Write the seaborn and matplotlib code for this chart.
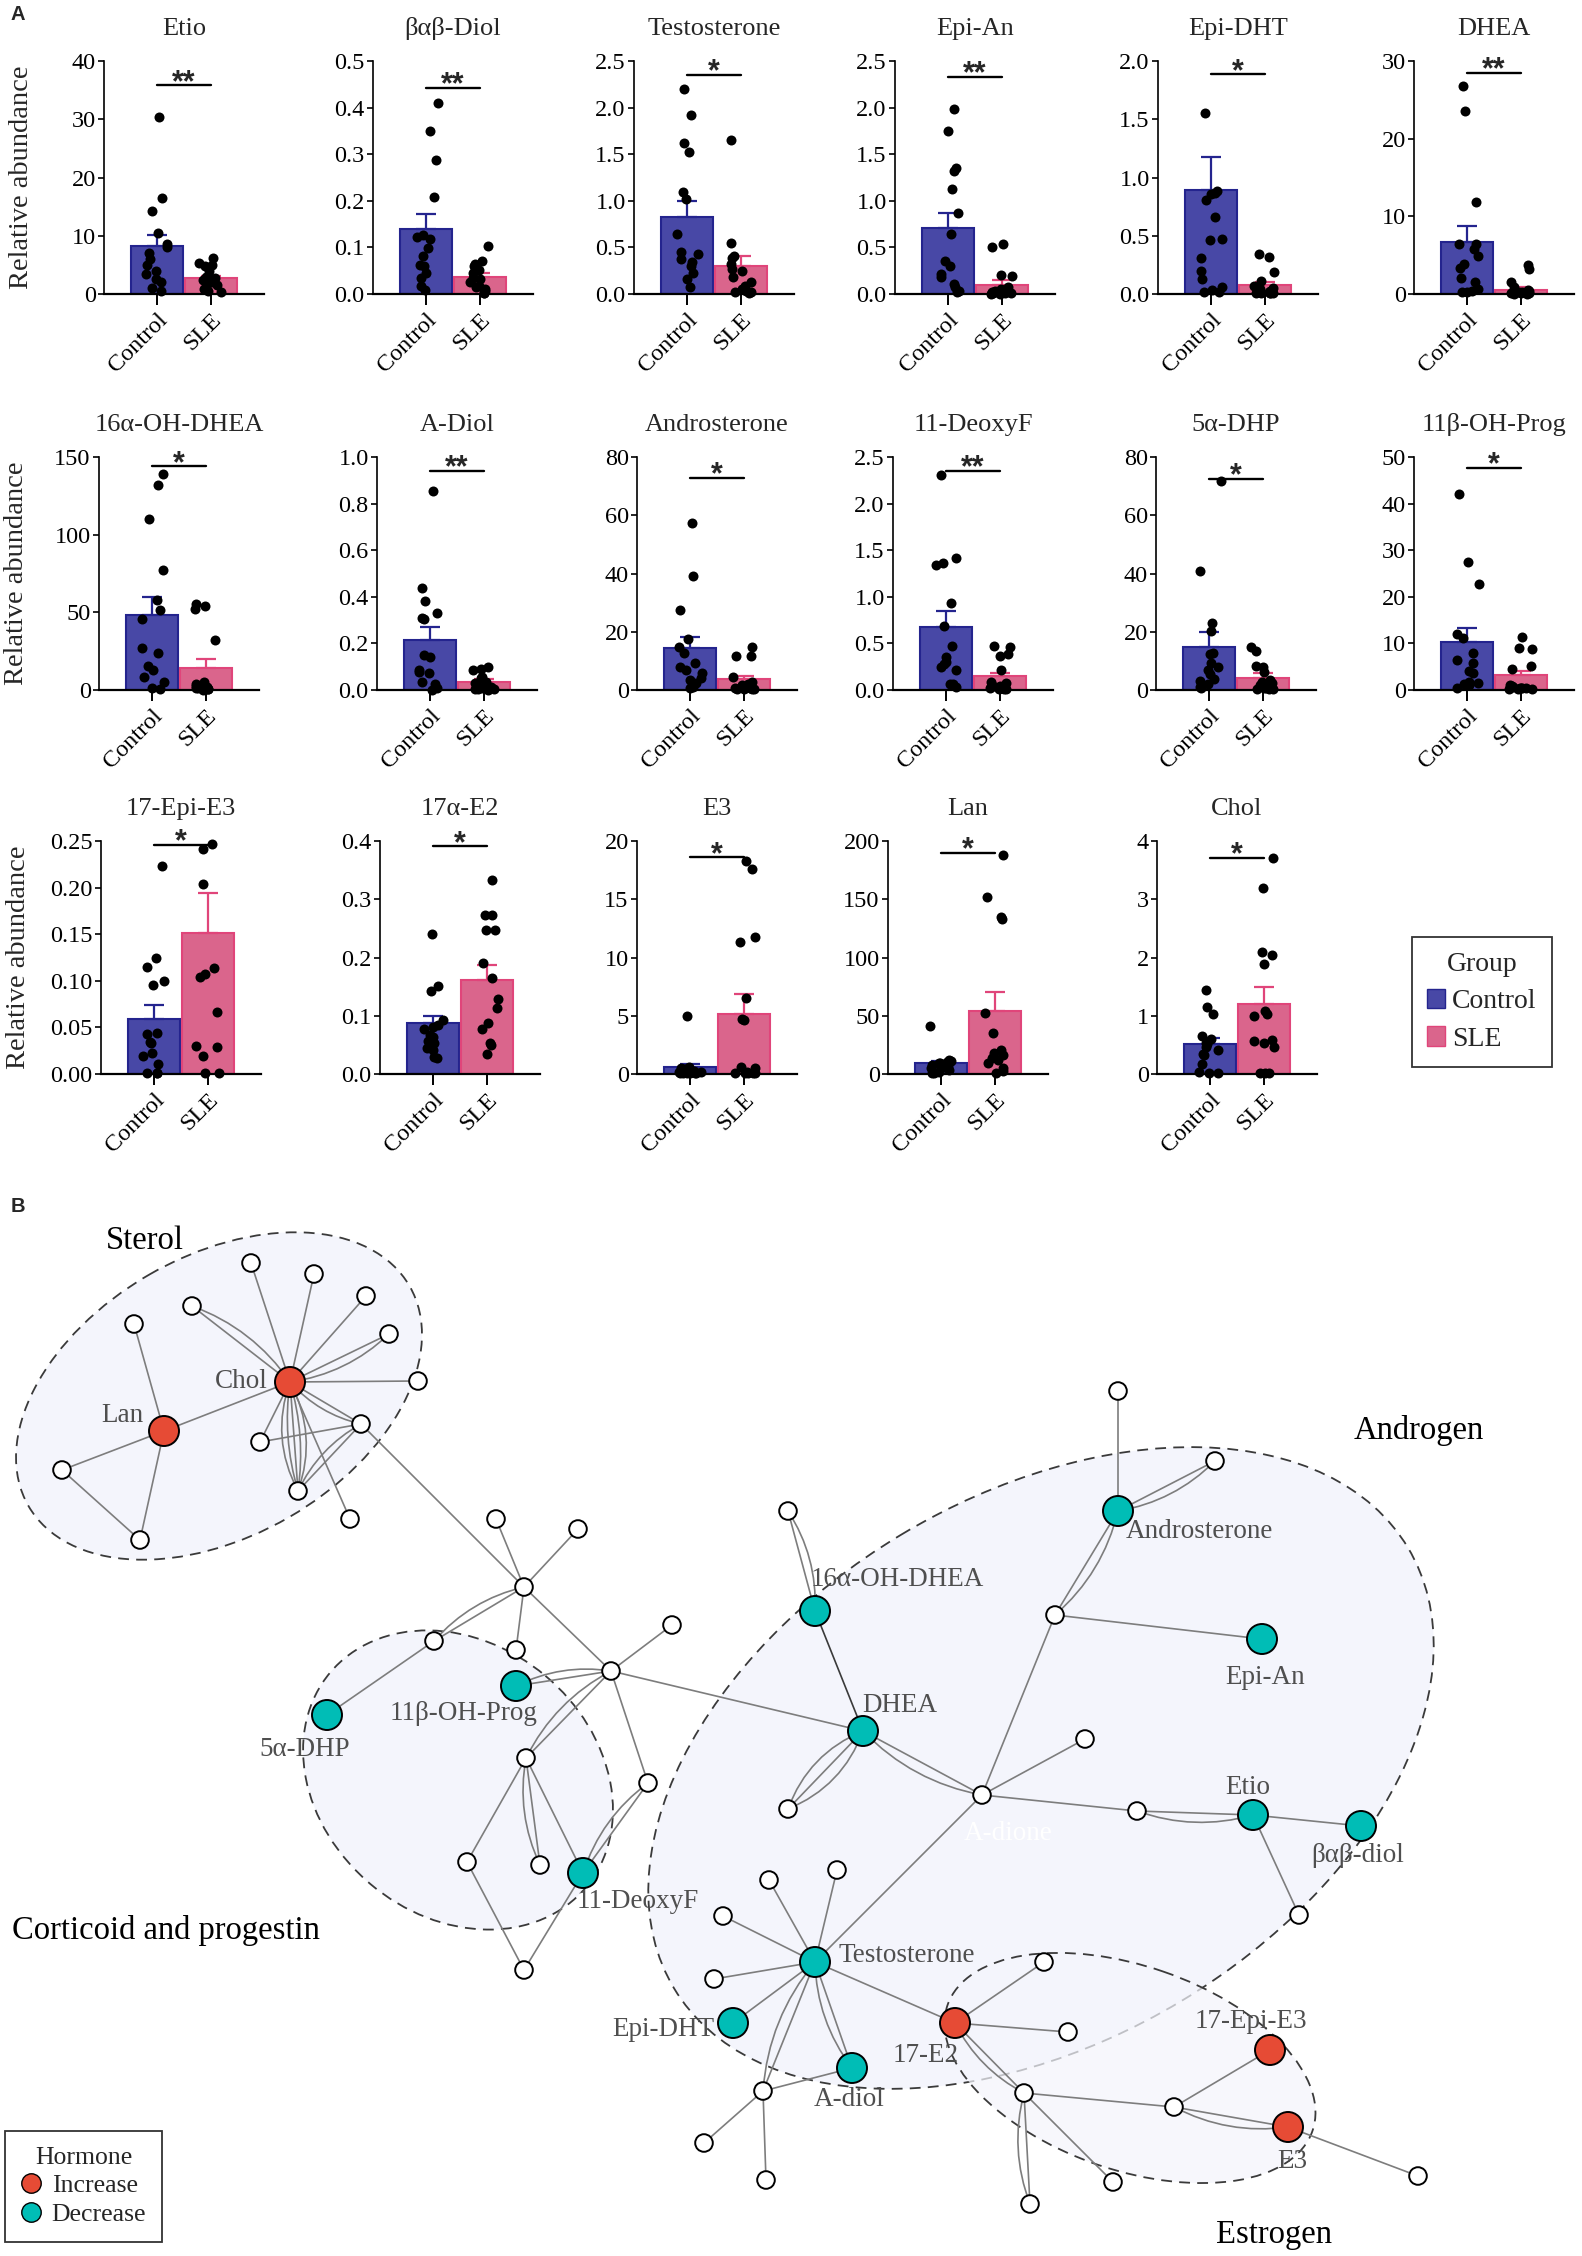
import numpy as np
import pandas as pd
import matplotlib
matplotlib.use("Agg")
import matplotlib.pyplot as plt
import seaborn as sns
from matplotlib.patches import Ellipse, Circle, FancyArrowPatch, Patch
from matplotlib.lines import Line2D

sns.set_theme(style="ticks")
plt.rcParams['font.family'] = ['Liberation Serif', 'DejaVu Serif']
plt.rcParams['axes.edgecolor'] = 'black'
plt.rcParams['xtick.color'] = 'black'
plt.rcParams['ytick.color'] = 'black'

# ---------------------------------------------------------------- data (panel A)
groups = ["Control", "SLE"]
hormones = ["Etio", "βαβ-Diol", "Testosterone", "Epi-An", "Epi-DHT", "DHEA",
            "16α-OH-DHEA", "A-Diol", "Androsterone", "11-DeoxyF", "5α-DHP", "11β-OH-Prog",
            "17-Epi-E3", "17α-E2", "E3", "Lan", "Chol"]
significance = ["**", "**", "*", "**", "*", "**", "*", "**", "*", "**", "*", "*",
                "*", "*", "*", "*", "*"]
sig_level = [35.8, 0.443, 2.35, 2.33, 1.886, 28.5, 144, 0.94, 72.9, 2.35, 72.4, 47.6,
             0.246, 0.391, 18.6, 190, 3.71]
control_mean = [8.2, 0.139, 0.83, 0.709, 0.889, 6.64, 48.6, 0.214, 14.3, 0.68, 14.9, 10.4,
                0.0586, 0.087, 0.57, 9.1, 0.507]
control_sem = [2.0, 0.033, 0.17, 0.164, 0.29, 2.1, 11.4, 0.057, 4.0, 0.17, 5.1, 3.0,
               0.015, 0.013, 0.29, 2.0, 0.113]
sle_mean = [2.76, 0.036, 0.30, 0.10, 0.077, 0.56, 13.9, 0.036, 3.7, 0.15, 4.2, 3.2,
            0.151, 0.162, 5.14, 54.0, 1.21]
sle_sem = [0.35, 0.008, 0.11, 0.045, 0.028, 0.38, 5.8, 0.01, 1.2, 0.036, 1.7, 0.9,
           0.043, 0.025, 1.7, 16.4, 0.29]
y_max = [40, 0.5, 2.5, 2.5, 2.0, 30, 150, 1.0, 80, 2.5, 80, 50, 0.25, 0.4, 20, 200, 4]
y_step = [10, 0.1, 0.5, 0.5, 0.5, 10, 50, 0.2, 20, 0.5, 20, 10, 0.05, 0.1, 5, 50, 1]
y_decimals = [0, 1, 1, 1, 1, 0, 0, 1, 0, 1, 0, 0, 2, 1, 0, 0, 0]

control_points = [
    [30.4, 16.5, 14.3, 10.5, 8.5, 8.0, 7.0, 6.0, 5.0, 4.0, 3.5, 2.5, 2.0, 1.0, 0.5],
    [0.409, 0.35, 0.287, 0.208, 0.126, 0.123, 0.117, 0.099, 0.081, 0.063, 0.06, 0.045, 0.034, 0.018, 0.009],
    [2.2, 1.92, 1.625, 1.525, 1.09, 1.02, 0.64, 0.45, 0.43, 0.375, 0.34, 0.30, 0.23, 0.16, 0.07],
    [1.99, 1.745, 1.353, 1.32, 1.13, 0.87, 0.64, 0.356, 0.30, 0.21, 0.18, 0.107, 0.07, 0.036, 0.02],
    [1.55, 0.88, 0.87, 0.855, 0.81, 0.66, 0.476, 0.464, 0.31, 0.2, 0.128, 0.057, 0.037, 0.02, 0.02],
    [26.8, 23.6, 11.9, 6.5, 6.4, 5.8, 4.9, 3.9, 3.4, 2.1, 1.5, 0.6, 0.4, 0.3, 0.2],
    [139, 132, 110, 77, 58, 51.4, 46, 26.8, 23.6, 15.4, 12.9, 8.1, 5.4, 1, 0.5],
    [0.853, 0.439, 0.381, 0.329, 0.31, 0.303, 0.15, 0.14, 0.086, 0.079, 0.071, 0.036, 0.026, 0.007, 0.0],
    [57.3, 39.2, 27.5, 17.4, 14.9, 12.6, 9.2, 8, 6.9, 5.7, 4, 3.4, 2.3, 1, 0.6],
    [2.31, 1.42, 1.36, 1.34, 0.93, 0.69, 0.475, 0.357, 0.30, 0.28, 0.25, 0.21, 0.064, 0.064, 0.036],
    [71.7, 40.9, 23.1, 20.3, 12.8, 12.3, 9.1, 8, 6.9, 5.5, 3.7, 3.0, 2.1, 1.1, 0.6],
    [42, 27.5, 22.7, 12.1, 11.1, 7.9, 6.4, 5.7, 4.1, 3.6, 1.8, 1.4, 1.3, 1.1, 0.5],
    [0.223, 0.124, 0.115, 0.100, 0.096, 0.044, 0.043, 0.034, 0.033, 0.022, 0.019, 0.011, 0.001, 0.001, 0.001],
    [0.241, 0.151, 0.143, 0.093, 0.084, 0.081, 0.077, 0.067, 0.064, 0.057, 0.053, 0.044, 0.041, 0.03, 0.027],
    [5.0, 0.6, 0.5, 0.4, 0.3, 0.3, 0.2, 0.2, 0.2, 0.1, 0.1, 0.1, 0.1, 0.05, 0.05],
    [41, 12, 11, 10.5, 9.7, 9.1, 8, 7.7, 6.8, 5.5, 4.8, 3.4, 2, 1, 0.6],
    [1.44, 1.15, 1.03, 0.65, 0.6, 0.54, 0.51, 0.46, 0.41, 0.35, 0.32, 0.17, 0.04, 0.02, 0.01],
]
sle_points = [
    [6.2, 5.4, 4.9, 4.8, 3.9, 3.0, 2.8, 2.6, 2.4, 2.0, 1.6, 1.2, 0.8, 0.5, 0.3],
    [0.104, 0.07, 0.065, 0.06, 0.052, 0.045, 0.035, 0.032, 0.025, 0.018, 0.014, 0.01, 0.006, 0.003, 0.002],
    [1.65, 0.55, 0.41, 0.39, 0.32, 0.27, 0.25, 0.18, 0.13, 0.09, 0.05, 0.03, 0.02, 0.02, 0.01],
    [0.54, 0.50, 0.20, 0.19, 0.08, 0.05, 0.04, 0.03, 0.02, 0.02, 0.01, 0.01, 0.01, 0.0, 0.0],
    [0.34, 0.32, 0.185, 0.11, 0.07, 0.05, 0.04, 0.03, 0.02, 0.02, 0.01, 0.01, 0.01, 0.005, 0.005],
    [3.7, 3.2, 1.5, 0.9, 0.5, 0.4, 0.3, 0.3, 0.2, 0.2, 0.1, 0.1, 0.1, 0.05, 0.05],
    [55.3, 54, 51.9, 32, 5.4, 3.9, 2.5, 2, 1.5, 1.2, 1, 0.8, 0.6, 0.4, 0.3],
    [0.1, 0.089, 0.086, 0.057, 0.05, 0.036, 0.029, 0.021, 0.014, 0.007, 0.007, 0.005, 0.004, 0.003, 0.002],
    [14.9, 11.7, 11.6, 4.6, 2.8, 2.0, 1.6, 1.2, 1.0, 0.8, 0.6, 0.5, 0.4, 0.3, 0.2],
    [0.47, 0.46, 0.39, 0.36, 0.21, 0.09, 0.07, 0.05, 0.04, 0.03, 0.02, 0.02, 0.01, 0.01, 0.01],
    [14.9, 13.5, 8.2, 7.8, 6.3, 3.4, 2.9, 2.5, 1.7, 1.2, 0.8, 0.6, 0.4, 0.3, 0.2],
    [11.3, 9.0, 8.8, 5.1, 4.6, 1.0, 0.8, 0.6, 0.5, 0.5, 0.4, 0.4, 0.3, 0.3, 0.2],
    [0.247, 0.241, 0.204, 0.114, 0.107, 0.104, 0.066, 0.03, 0.029, 0.019, 0.001, 0.001],
    [0.333, 0.273, 0.273, 0.247, 0.247, 0.19, 0.164, 0.128, 0.114, 0.087, 0.078, 0.054, 0.05, 0.035],
    [18.3, 17.6, 11.8, 11.3, 6.5, 4.7, 4.6, 0.6, 0.5, 0.2, 0.1, 0.1, 0.1, 0.05, 0.05],
    [188, 152, 135, 133, 52.4, 35.3, 20.5, 17.7, 16.2, 13.4, 12, 9.1, 4.8, 3, 1],
    [3.7, 3.19, 2.09, 2.05, 1.88, 1.08, 1.03, 0.99, 0.58, 0.57, 0.54, 0.47, 0.01, 0.01, 0.01],
]

# ---------------------------------------------------------------- data (panel B network)
node_names = ["Chol", "Lan", "11β-OH-Prog", "5α-DHP", "11-DeoxyF", "16α-OH-DHEA", "DHEA",
              "Androsterone", "Epi-An", "Etio", "βαβ-diol", "Testosterone", "Epi-DHT",
              "A-diol", "17-E2", "17-Epi-E3", "E3",
              "s1", "s2", "s3", "s4", "s5", "s6", "s7", "s8", "s9", "s10", "s11", "s12", "s13",
              "h1", "n1", "n2", "n3", "n4", "h2", "n5",
              "c1", "c2", "c3", "c4", "c5",
              "a1", "a2", "a3", "a4", "A-dione", "a5", "a6", "a7", "a8",
              "t1", "t2", "t3", "t4", "t5", "t6", "t7",
              "e1", "e2", "e3", "e4", "e5", "e6", "e7"]
node_change = ["Increase", "Increase", "Decrease", "Decrease", "Decrease", "Decrease", "Decrease",
               "Decrease", "Decrease", "Decrease", "Decrease", "Decrease", "Decrease",
               "Decrease", "Increase", "Increase", "Increase"] + ["None"] * 48
node_x = [290, 164, 516, 327, 583, 815, 863, 1118, 1262, 1253, 1361, 815, 733, 852, 955, 1270, 1288,
          251, 314, 366, 192, 134, 389, 418, 361, 260, 62, 298, 350, 140,
          524, 496, 578, 434, 516, 611, 672,
          526, 648, 467, 540, 524,
          788, 1118, 1215, 1055, 982, 1085, 788, 1137, 1299,
          837, 769, 723, 714, 763, 704, 766,
          1044, 1068, 1024, 1174, 1113, 1030, 1418]
node_y = [1382, 1431, 1686, 1715, 1873, 1611, 1731, 1511, 1639, 1815, 1826, 1962, 2023, 2068, 2023, 2050, 2127,
          1263, 1274, 1296, 1306, 1324, 1334, 1381, 1424, 1442, 1470, 1491, 1519, 1540,
          1587, 1519, 1529, 1641, 1650, 1671, 1625,
          1758, 1783, 1862, 1865, 1970,
          1511, 1391, 1461, 1615, 1795, 1739, 1809, 1811, 1915,
          1870, 1880, 1916, 1979, 2091, 2143, 2180,
          1962, 2032, 2093, 2107, 2182, 2204, 2176]
edge_src = ["Lan", "Lan", "Lan", "s10", "Lan", "Chol", "Chol", "Chol", "Chol", "Chol", "Chol",
            "Chol", "Chol", "Chol", "Chol", "s9", "s8", "s8",
            "h1", "h1", "h1", "h1", "h1", "n3", "h2", "h2", "h2", "h2", "h2",
            "c1", "c1", "c1", "c2", "c3", "11-DeoxyF",
            "16α-OH-DHEA", "16α-OH-DHEA", "DHEA", "DHEA", "A-dione", "A-dione", "a4", "Androsterone",
            "Androsterone", "a4", "A-dione", "a7", "Etio", "Etio", "A-dione",
            "Testosterone", "Testosterone", "Testosterone", "Testosterone", "Testosterone",
            "Testosterone", "Testosterone", "Testosterone", "A-diol", "t5", "t5",
            "17-E2", "17-E2", "17-E2", "e3", "e3", "e3", "e4", "e4", "E3"]
edge_dst = ["s5", "s10", "s13", "s13", "Chol", "s1", "s2", "s3", "s4", "s6", "s7",
            "s8", "s9", "s11", "s12", "s8", "s11", "h1",
            "n1", "n2", "n3", "n4", "h2", "5α-DHP", "n5", "11β-OH-Prog", "c1", "c2", "DHEA",
            "c3", "c4", "11-DeoxyF", "11-DeoxyF", "c5", "c5",
            "a1", "DHEA", "a6", "A-dione", "a5", "a4", "Androsterone", "a2",
            "a3", "Epi-An", "a7", "Etio", "βαβ-diol", "a8", "Testosterone",
            "t1", "t2", "t3", "t4", "Epi-DHT", "A-diol", "t5", "17-E2", "t5", "t6", "t7",
            "e1", "e2", "e3", "e4", "e5", "e6", "17-Epi-E3", "E3", "e7"]
edge_count = [1, 1, 1, 1, 1, 1, 1, 1, 2, 2, 1, 2, 1, 5, 1, 1, 2, 1,
              1, 1, 2, 1, 1, 1, 1, 2, 2, 1, 1,
              1, 2, 1, 2, 1, 1,
              2, 1, 3, 2, 1, 1, 2, 1,
              2, 1, 1, 2, 1, 1, 1,
              1, 1, 1, 1, 1, 2, 2, 1, 1, 1, 1,
              1, 1, 2, 1, 1, 2, 1, 2, 1]
label_nodes = ["Chol", "Lan", "11β-OH-Prog", "5α-DHP", "11-DeoxyF", "16α-OH-DHEA", "DHEA",
               "Androsterone", "Epi-An", "Etio", "βαβ-diol", "Testosterone", "Epi-DHT",
               "A-diol", "17-E2", "17-Epi-E3", "E3", "A-dione"]
label_x = [268, 143, 464, 305, 638, 897, 900, 1199, 1265, 1248, 1358, 907, 663, 849, 926, 1251, 1292, 1008]
label_y = [1382, 1416, 1713, 1750, 1902, 1579, 1706, 1532, 1677, 1787, 1855, 1955, 2030, 2099, 2055, 2021, 2161, 1833]
label_ha = ["right", "right", "center", "center", "center", "center", "center", "center", "center",
            "center", "center", "center", "center", "center", "center", "center", "center", "center"]
cluster_names = ["Sterol", "Androgen", "Corticoid and progestin", "Estrogen"]
cluster_cx = [219, 1041, 458, 1130]
cluster_cy = [1396, 1768, 1780, 2068]
cluster_w = [440, 856, 334, 386]
cluster_h = [280, 544, 272, 204]
cluster_angle = [-30, -31, 40, 19]
cluster_label_x = [145, 1419, 166, 1274]
cluster_label_y = [1241, 1431, 1930, 2235]

# ---------------------------------------------------------------- style
ctrl_fill, ctrl_edge = "#4848A6", "#24248E"
sle_fill, sle_edge = "#DA658C", "#E0457A"
inc_color, dec_color = "#E64B35", "#00BDB6"
W_PX, H_PX = 1582, 2256

fig = plt.figure(figsize=(W_PX / 100, H_PX / 100), dpi=100)
fig.patch.set_facecolor("white")

# ---------------------------------------------------------------- panel B (network)
ax_net = fig.add_axes([0, 0, 1, 1])
ax_net.set_xlim(0, W_PX)
ax_net.set_ylim(H_PX, 0)
ax_net.axis("off")
ax_net.patch.set_alpha(0)

face_alpha = [1.0, 1.0, 1.0, 0.72]
for i in range(len(cluster_names)):
    e = Ellipse((cluster_cx[i], cluster_cy[i]), cluster_w[i], cluster_h[i], angle=cluster_angle[i],
                facecolor=(0.957, 0.961, 0.988, face_alpha[i]), edgecolor="#3a3a3a",
                linestyle=(0, (6, 4)), linewidth=1.3, zorder=1)
    ax_net.add_patch(e)
    ax_net.text(cluster_label_x[i], cluster_label_y[i], cluster_names[i], fontsize=23.5,
                ha="center", va="center", color="black", zorder=5)

pos = {n: (x, y) for n, x, y in zip(node_names, node_x, node_y)}
for a, b, m in zip(edge_src, edge_dst, edge_count):
    if m == 1:
        rads = [0.0]
    elif m == 2:
        rads = [0.0, 0.16]
    else:
        rads = list(np.linspace(-0.22, 0.22, m))
    col = "#3a3a3a" if {a, b} == {"16α-OH-DHEA", "DHEA"} else "#7d7d7d"
    for r in rads:
        p = FancyArrowPatch(pos[a], pos[b], arrowstyle="-", connectionstyle=f"arc3,rad={r}",
                            color=col, lw=1.2, shrinkA=0, shrinkB=0, zorder=2)
        ax_net.add_patch(p)

for n, ch in zip(node_names, node_change):
    if ch == "Increase":
        fc, r = inc_color, 15
    elif ch == "Decrease":
        fc, r = dec_color, 15
    else:
        fc, r = "white", 8.8
    ax_net.add_patch(Circle(pos[n], r, facecolor=fc, edgecolor="black", lw=1.4, zorder=3))

for n, lx, ly, ha in zip(label_nodes, label_x, label_y, label_ha):
    col = "white" if n == "A-dione" else "#4f4f4f"
    ax_net.text(lx, ly, n, fontsize=19.5, ha=ha, va="center", color=col, zorder=4)

# ---------------------------------------------------------------- panel A (bars)
row_top = [61, 457, 841]
col_left = [[104, 373, 634, 895, 1158, 1414], [99, 377, 637, 893, 1156, 1414], [101, 380, 637, 888, 1157]]
ax_w, ax_h = 160, 233

np.random.seed(3)
k = 0
for r, lefts in enumerate(col_left):
    for c, left in enumerate(lefts):
        ax = fig.add_axes([left / W_PX, 1 - (row_top[r] + ax_h) / H_PX, ax_w / W_PX, ax_h / H_PX])
        df_bar = pd.DataFrame({"Group": groups, "Mean": [control_mean[k], sle_mean[k]]})
        sns.barplot(data=df_bar, x="Group", y="Mean", hue="Group", order=groups, hue_order=groups,
                    palette={"Control": ctrl_fill, "SLE": sle_fill}, saturation=1, width=0.98,
                    errorbar=None, legend=False, ax=ax, zorder=1)
        for patch, ec in zip(ax.patches, [ctrl_edge, sle_edge]):
            patch.set_edgecolor(ec)
            patch.set_linewidth(1.5)
        for xi, (mu, se, ec) in enumerate(zip([control_mean[k], sle_mean[k]],
                                               [control_sem[k], sle_sem[k]], [ctrl_edge, sle_edge])):
            ax.errorbar([xi], [mu], yerr=[[0], [se]], color=ec, capsize=7, elinewidth=1.6,
                        capthick=1.6, zorder=2)
        df_pts = pd.DataFrame({"Group": ["Control"] * len(control_points[k]) + ["SLE"] * len(sle_points[k]),
                               "Value": control_points[k] + sle_points[k]})
        sns.stripplot(data=df_pts, x="Group", y="Value", order=groups, color="black", size=7.2,
                      jitter=0.22, linewidth=0, ax=ax, zorder=4, clip_on=False)
        ax.set_xlim(-1, 2)
        ticks = np.round(np.arange(0, y_max[k] + y_step[k] / 2, y_step[k]), 4)
        ax.set_ylim(0, y_max[k])
        ax.set_yticks(ticks)
        ax.set_yticklabels([f"{t:.{y_decimals[k]}f}" for t in ticks], fontsize=17.5)
        ax.set_xticks([0, 1])
        ax.set_xticklabels(groups, rotation=45, ha="right", va="top", rotation_mode="anchor", fontsize=17.5)
        ax.set_xlabel("")
        if c == 0:
            ax.set_ylabel("Relative abundance", fontsize=20.5)
            ax.yaxis.set_label_coords(-0.44, 0.5)
        else:
            ax.set_ylabel("")
        ax.set_title(hormones[k], fontsize=19, pad=19)
        for s in ["top", "right"]:
            ax.spines[s].set_visible(False)
        ax.spines["left"].set_linewidth(1.2)
        ax.spines["bottom"].set_linewidth(1.6)
        ax.tick_params(axis="y", direction="out", length=4, width=1.2, pad=2)
        ax.tick_params(axis="x", direction="out", length=8, width=1.4, pad=3)
        ax.patch.set_alpha(0)
        ax.plot([0, 1], [sig_level[k], sig_level[k]], color="black", lw=1.7, clip_on=False, zorder=5)
        ax.annotate(significance[k], xy=(0.5, sig_level[k]), xytext=(0, -4), textcoords="offset points",
                    ha="center", va="baseline", fontsize=22, fontweight="bold",
                    family=["Liberation Sans", "DejaVu Sans"], annotation_clip=False)
        k += 1

# ---------------------------------------------------------------- legends and panel letters
grp_handles = [Patch(facecolor=ctrl_fill, edgecolor=ctrl_edge), Patch(facecolor=sle_fill, edgecolor=sle_edge)]
leg1 = fig.legend(grp_handles, groups, loc="upper left", bbox_to_anchor=(1412 / W_PX, 1 - 937 / H_PX),
                  frameon=True, fancybox=False, edgecolor="black", title="Group",
                  prop={"family": "Liberation Serif", "size": 20}, title_fontsize=20,
                  handlelength=0.65, handleheight=0.7, handletextpad=0.25, labelspacing=0.42,
                  borderpad=0.55, borderaxespad=0)
leg1.get_frame().set_linewidth(1.3)

hor_handles = [Line2D([], [], ls="", marker="o", markersize=14, markerfacecolor=inc_color, markeredgecolor="black"),
               Line2D([], [], ls="", marker="o", markersize=14, markerfacecolor=dec_color, markeredgecolor="black")]
leg2 = fig.legend(hor_handles, ["Increase", "Decrease"], loc="lower left",
                  bbox_to_anchor=(5 / W_PX, 1 - 2242 / H_PX), frameon=True, fancybox=False,
                  edgecolor="black", title="Hormone", prop={"family": "Liberation Serif", "size": 18.5},
                  title_fontsize=18.5, handlelength=0.75, handletextpad=0.45, labelspacing=0.22,
                  borderpad=0.62, borderaxespad=0)
leg2.get_frame().set_linewidth(1.3)

fig.text(18 / W_PX, 1 - 15 / H_PX, "A", fontsize=14.5, fontweight="bold", family=["Liberation Sans", "DejaVu Sans"],
         ha="center", va="center")
fig.text(18 / W_PX, 1 - 1206 / H_PX, "B", fontsize=14.5, fontweight="bold", family=["Liberation Sans", "DejaVu Sans"],
         ha="center", va="center")

fig.savefig("out.png", dpi=100, facecolor="white")
